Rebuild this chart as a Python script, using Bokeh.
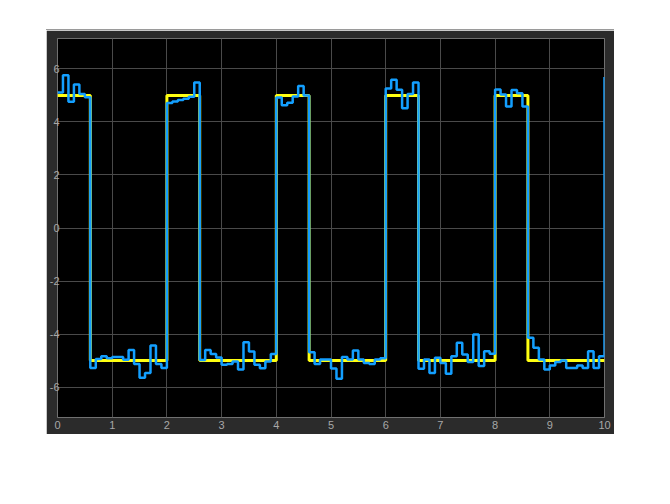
from bokeh.plotting import figure
from bokeh.models import Range1d, FixedTicker, Spacer
from bokeh.layouts import row, column
from bokeh.embed import file_html
from bokeh.resources import INLINE

# Reference pulse (yellow): switching times and levels
pulse_times = [0.0, 0.6, 2.0, 2.6, 4.0, 4.6, 6.0, 6.6, 8.0, 8.6, 10.0]
pulse_levels = [5, -5, 5, -5, 5, -5, 5, -5, 5, -5, -5]

# Sampled / noisy signal (blue), held every 0.1 s
high1 = [5.11, 5.76, 4.76, 5.41, 5.06, 4.93]
low1 = [-5.28, -4.94, -4.84, -4.91, -4.87, -4.87, -4.97, -4.60, -5.13, -5.65, -5.47, -4.43, -5.13, -5.28]
high2 = [4.72, 4.77, 4.83, 4.88, 4.95, 5.49]
low2 = [-4.98, -4.60, -4.75, -4.89, -5.16, -5.13, -5.04, -5.34, -4.31, -4.66, -5.16, -5.29, -5.04, -4.75]
high3 = [4.92, 4.63, 4.73, 4.96, 5.36, 5.00]
low3 = [-4.69, -5.13, -4.96, -4.96, -5.30, -5.69, -4.87, -4.96, -4.62, -4.96, -5.09, -5.13, -4.96, -4.91]
high4 = [5.26, 5.59, 5.22, 4.52, 5.06, 5.49]
low4 = [-5.31, -4.96, -5.47, -4.90, -5.09, -5.50, -4.84, -4.33, -4.77, -5.06, -4.02, -5.21, -4.65, -4.74]
high5 = [5.23, 5.04, 4.58, 5.21, 5.08, 4.58]
low5 = [-4.14, -4.52, -4.96, -5.34, -5.19, -5.06, -5.00, -5.28, -5.28, -5.19, -5.28, -4.65, -5.28, -4.84]
final_value = [5.70]

x_ticks = [0, 1, 2, 3, 4, 5, 6, 7, 8, 9, 10]
y_ticks = [-6, -4, -2, 0, 2, 4, 6]
y_tick_labels = ["-6", "-4", "-2", "0", "2", "4", "6"]

blue_values = high1 + low1 + high2 + low2 + high3 + low3 + high4 + low4 + high5 + low5 + final_value
sample_times = [round(i * 0.1, 1) for i in range(len(blue_values))]

BOX = "#2b2b2b"
p = figure(width=568, height=404, output_backend="svg", toolbar_location=None,
           x_range=Range1d(0, 10), y_range=Range1d(-7.15, 7.15),
           min_border_left=11, min_border_right=10, min_border_top=8, min_border_bottom=17)
p.background_fill_color = "black"
p.border_fill_color = BOX
p.outline_line_color = "#707070"
p.outline_line_width = 1

for ax in (p.xaxis, p.yaxis):
    ax.axis_line_color = None
    ax.major_tick_line_color = None
    ax.minor_tick_line_color = None
    ax.major_tick_in = 0
    ax.major_tick_out = 0
    ax.axis_label_standoff = 0
    ax.major_label_text_color = "#a8a8a8"
    ax.major_label_text_font = "Liberation Sans"
    ax.major_label_text_font_size = "11px"
    ax.major_label_standoff = 3
p.yaxis.major_label_standoff = -2
p.xaxis.ticker = FixedTicker(ticks=x_ticks)
p.yaxis.ticker = FixedTicker(ticks=y_ticks)
p.yaxis.major_label_overrides = {t: s for t, s in zip(y_ticks, y_tick_labels)}

p.grid.grid_line_color = "#4a4a4a"
p.grid.grid_line_width = 1

p.step(pulse_times, pulse_levels, mode="after", line_color="#FFFF11", line_width=3)
p.step(sample_times, blue_values, mode="after", line_color="#139FFF", line_width=2.5)

top_edge = Spacer(width=568, height=1, styles={"background-color": "#9a9a9a"})
layout = row(Spacer(width=46), column(Spacer(height=29), top_edge, p))
open("out.html", "w").write(file_html(layout, INLINE))
